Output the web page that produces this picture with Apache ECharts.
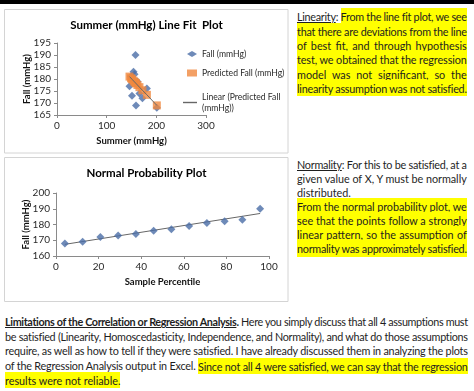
<!DOCTYPE html>
<html>
<head>
<meta charset="utf-8">
<script src="https://cdn.jsdelivr.net/npm/echarts@6/dist/echarts.min.js"></script>
<style>
  html, body { margin:0; padding:0; background:#fff; }
  body { width:474px; height:391px; position:relative; overflow:hidden; }
  #topbar { position:absolute; left:0; top:0; width:474px; height:4px; background:#000; z-index:5; }
  #chart { position:absolute; left:0; top:0; width:293px; height:305px; }
  .txt { position:absolute; font-family:Lato, sans-serif; font-size:10.8px; color:#1e1e1e; }
  .ln { white-space:nowrap; overflow:visible; }
  .hl { background:#ffff00; padding:1.6px 0; }
  u { text-decoration:underline; }
</style>
</head>
<body>
<div id="topbar"></div>
<div id="chart"></div>

<div class="txt" id="t1" style="left:297px; top:10px; width:170px; line-height:14.3px;">
  <div class="ln j"><span><u>Linearity</u>: <span class="hl">From the line fit plot, we see</span></span></div>
  <div class="ln j"><span><span class="hl">that there are deviations from the line</span></span></div>
  <div class="ln j"><span><span class="hl">of best fit, and through hypothesis</span></span></div>
  <div class="ln j"><span><span class="hl">test, we obtained that the regression</span></span></div>
  <div class="ln j"><span><span class="hl">model was not significant, so the</span></span></div>
  <div class="ln j"><span><span class="hl">linearity assumption was not satisfied.</span></span></div>
</div>

<div class="txt" id="t2" style="left:297px; top:158px; width:170px; line-height:14px;">
  <div class="ln j"><span><u>Normality</u>: For this to be satisfied, at a</span></div>
  <div class="ln j"><span>given value of X, Y must be normally</span></div>
  <div class="ln"><span>distributed.</span></div>
  <div class="ln j"><span><span class="hl">From the normal probability plot, we</span></span></div>
  <div class="ln j"><span><span class="hl">see that the points follow a strongly</span></span></div>
  <div class="ln j"><span><span class="hl">linear pattern, so the assumption of</span></span></div>
  <div class="ln j"><span><span class="hl">normality was approximately satisfied.</span></span></div>
</div>

<div class="txt" id="t3" style="left:5px; top:315px; width:463px; line-height:14.7px;">
  <div class="ln j"><span><b><u>Limitations of the Correlation or Regression Analysis</u>.</b> Here you simply discuss that all 4 assumptions must</span></div>
  <div class="ln j"><span>be satisfied (Linearity, Homoscedasticity, Independence, and Normality), and what do those assumptions</span></div>
  <div class="ln j"><span>require, as well as how to tell if they were satisfied. I have already discussed them in analyzing the plots</span></div>
  <div class="ln j"><span>of the Regression Analysis output in Excel. <span class="hl">Since not all 4 were satisfied, we can say that the regression</span></span></div>
  <div class="ln"><span><span class="hl">results were not reliable.</span></span></div>
</div>

<script>
// ---- data ----
const summer        = [158, 154, 156, 149, 162, 146, 181, 166, 151, 172, 159, 201];
const fall          = [190, 183, 182, 181, 179, 177, 176, 174, 173, 172, 169, 168];
const predictedFall = [178.4, 179.3, 178.8, 180.3, 177.5, 181.0, 173.4, 176.6, 179.9, 175.3, 178.2, 169.0];

const percentile    = [4.17, 12.5, 20.83, 29.17, 37.5, 45.83, 54.17, 62.5, 70.83, 79.17, 87.5, 95.83];
const sortedFall    = [168, 169, 172, 173, 174, 176, 177, 179, 181, 182, 183, 190];
const probTrendX    = [4.17, 95.83];
const probTrendY    = [167.4, 187.0];

const seriesNames = ['Fall (mmHg)', 'Predicted Fall (mmHg)', 'Linear (Predicted Fall\n(mmHg))'];
const titles = ['Summer (mmHg) Line Fit  Plot', 'Normal Probability Plot'];
const axisNames = { x1:'Summer (mmHg)', y1:'Fall (mmHg)', x2:'Sample Percentile', y2:'Fall (mmHg)' };

// ---- build ----
const FONT = 'Lato, sans-serif';
const BLUE = '#4A6DA6';
const ORANGE = '#F0883E';
const AX = '#8a8a8a';
const TREND = '#666666';

function axisBase(extra) {
  return Object.assign({
    type:'value',
    axisLine:{ show:true, lineStyle:{ color:AX, width:1 } },
    axisTick:{ show:true, length:3, lineStyle:{ color:AX } },
    splitLine:{ show:false },
    axisLabel:{ color:'#2a2a2a', fontSize:10, fontFamily:FONT, margin:6 },
    nameLocation:'middle',
    nameMoveOverlap:false,
    nameTextStyle:{ color:'#111', fontSize:9.5, fontWeight:'bold', fontFamily:FONT }
  }, extra);
}

const lineFitData = summer.map((s, i) => [s, fall[i]]);
const predData = summer.map((s, i) => [s, predictedFall[i]]);
const predSorted = predData.slice().sort((a, b) => a[0] - b[0]);
const probData = percentile.map((p, i) => [p, sortedFall[i]]);
const probTrend = probTrendX.map((x, i) => [x, probTrendY[i]]);

const legendText = { color:'#2a2a2a', fontSize:8.6, fontFamily:FONT, lineHeight:11 };

const option = {
  animation:false,
  graphic:[
    { type:'rect', z:-10, shape:{ x:4.5, y:9.5, width:283.5, height:143.5 }, style:{ fill:'none', stroke:'#d4d4d4', lineWidth:1 } },
    { type:'rect', z:-10, shape:{ x:4.5, y:157.5, width:283.5, height:144 }, style:{ fill:'none', stroke:'#d4d4d4', lineWidth:1 } }
  ],
  title:[
    { text:titles[0], left:'center', top:18, padding:0, textStyle:{ fontFamily:FONT, fontSize:11.5, fontWeight:'bold', color:'#000', lineHeight:14 } },
    { text:titles[1], left:'center', top:166, padding:0, textStyle:{ fontFamily:FONT, fontSize:11.5, fontWeight:'bold', color:'#000', lineHeight:14 } }
  ],
  legend:[
    { orient:'vertical', left:187, top:48.5, padding:0, itemWidth:10, itemHeight:6, selectedMode:false,
      textStyle:legendText, data:[{ name:seriesNames[0], icon:'diamond' }] },
    { orient:'vertical', left:187, top:67.5, padding:0, itemWidth:10, itemHeight:7, selectedMode:false,
      textStyle:legendText, data:[{ name:seriesNames[1], icon:'rect' }] },
    { orient:'vertical', left:183, top:86, padding:0, itemWidth:14, itemHeight:1.4, selectedMode:false,
      textStyle:Object.assign({}, legendText, { padding:[11,0,0,0] }),
      data:[{ name:seriesNames[2], icon:'rect', itemStyle:{ color:TREND } }] }
  ],
  grid:[
    { left:57, top:43, width:149, height:72 },
    { left:56, top:193, width:213, height:63 }
  ],
  xAxis:[
    axisBase({ gridIndex:0, min:0, max:300, interval:100, name:axisNames.x1, nameGap:21 }),
    axisBase({ gridIndex:1, min:0, max:100, interval:20, name:axisNames.x2, nameGap:21 })
  ],
  yAxis:[
    axisBase({ gridIndex:0, min:165, max:195, interval:5, name:axisNames.y1, nameGap:25 }),
    axisBase({ gridIndex:1, min:160, max:200, interval:10, name:axisNames.y2, nameGap:25 })
  ],
  series:[
    { name:seriesNames[0], type:'scatter', xAxisIndex:0, yAxisIndex:0, data:lineFitData,
      symbol:'diamond', symbolSize:8, itemStyle:{ color:BLUE }, z:2 },
    { name:seriesNames[1], type:'scatter', xAxisIndex:0, yAxisIndex:0, data:predData,
      symbol:'rect', symbolSize:8, itemStyle:{ color:ORANGE }, z:3 },
    { name:seriesNames[2], type:'line', xAxisIndex:0, yAxisIndex:0, data:predSorted,
      symbol:'none', lineStyle:{ color:TREND, width:1 }, itemStyle:{ color:TREND }, z:4 },
    { name:'Fall sample', type:'line', xAxisIndex:1, yAxisIndex:1, data:probTrend,
      symbol:'none', lineStyle:{ color:TREND, width:1 }, z:2 },
    { name:'Fall percentile', type:'scatter', xAxisIndex:1, yAxisIndex:1, data:probData,
      symbol:'diamond', symbolSize:8, itemStyle:{ color:BLUE }, z:3 }
  ]
};

const chart = echarts.init(document.getElementById('chart'), null, { renderer:'canvas' });
chart.setOption(option);

// ---- justify text lines ----
document.querySelectorAll('.ln').forEach(el => {
  const W = el.clientWidth;
  const m = el.firstElementChild;
  const t = el.textContent;
  let w = m.getBoundingClientRect().width;
  if (w > W - 0.3) {
    el.style.letterSpacing = ((W - 0.3 - w) / t.length) + 'px';
    w = m.getBoundingClientRect().width;
  }
  if (el.classList.contains('j')) {
    const n = (t.match(/ /g) || []).length;
    if (n && W - w > 0) el.style.wordSpacing = ((W - w - 0.3) / n) + 'px';
  }
});
</script>
</body>
</html>
